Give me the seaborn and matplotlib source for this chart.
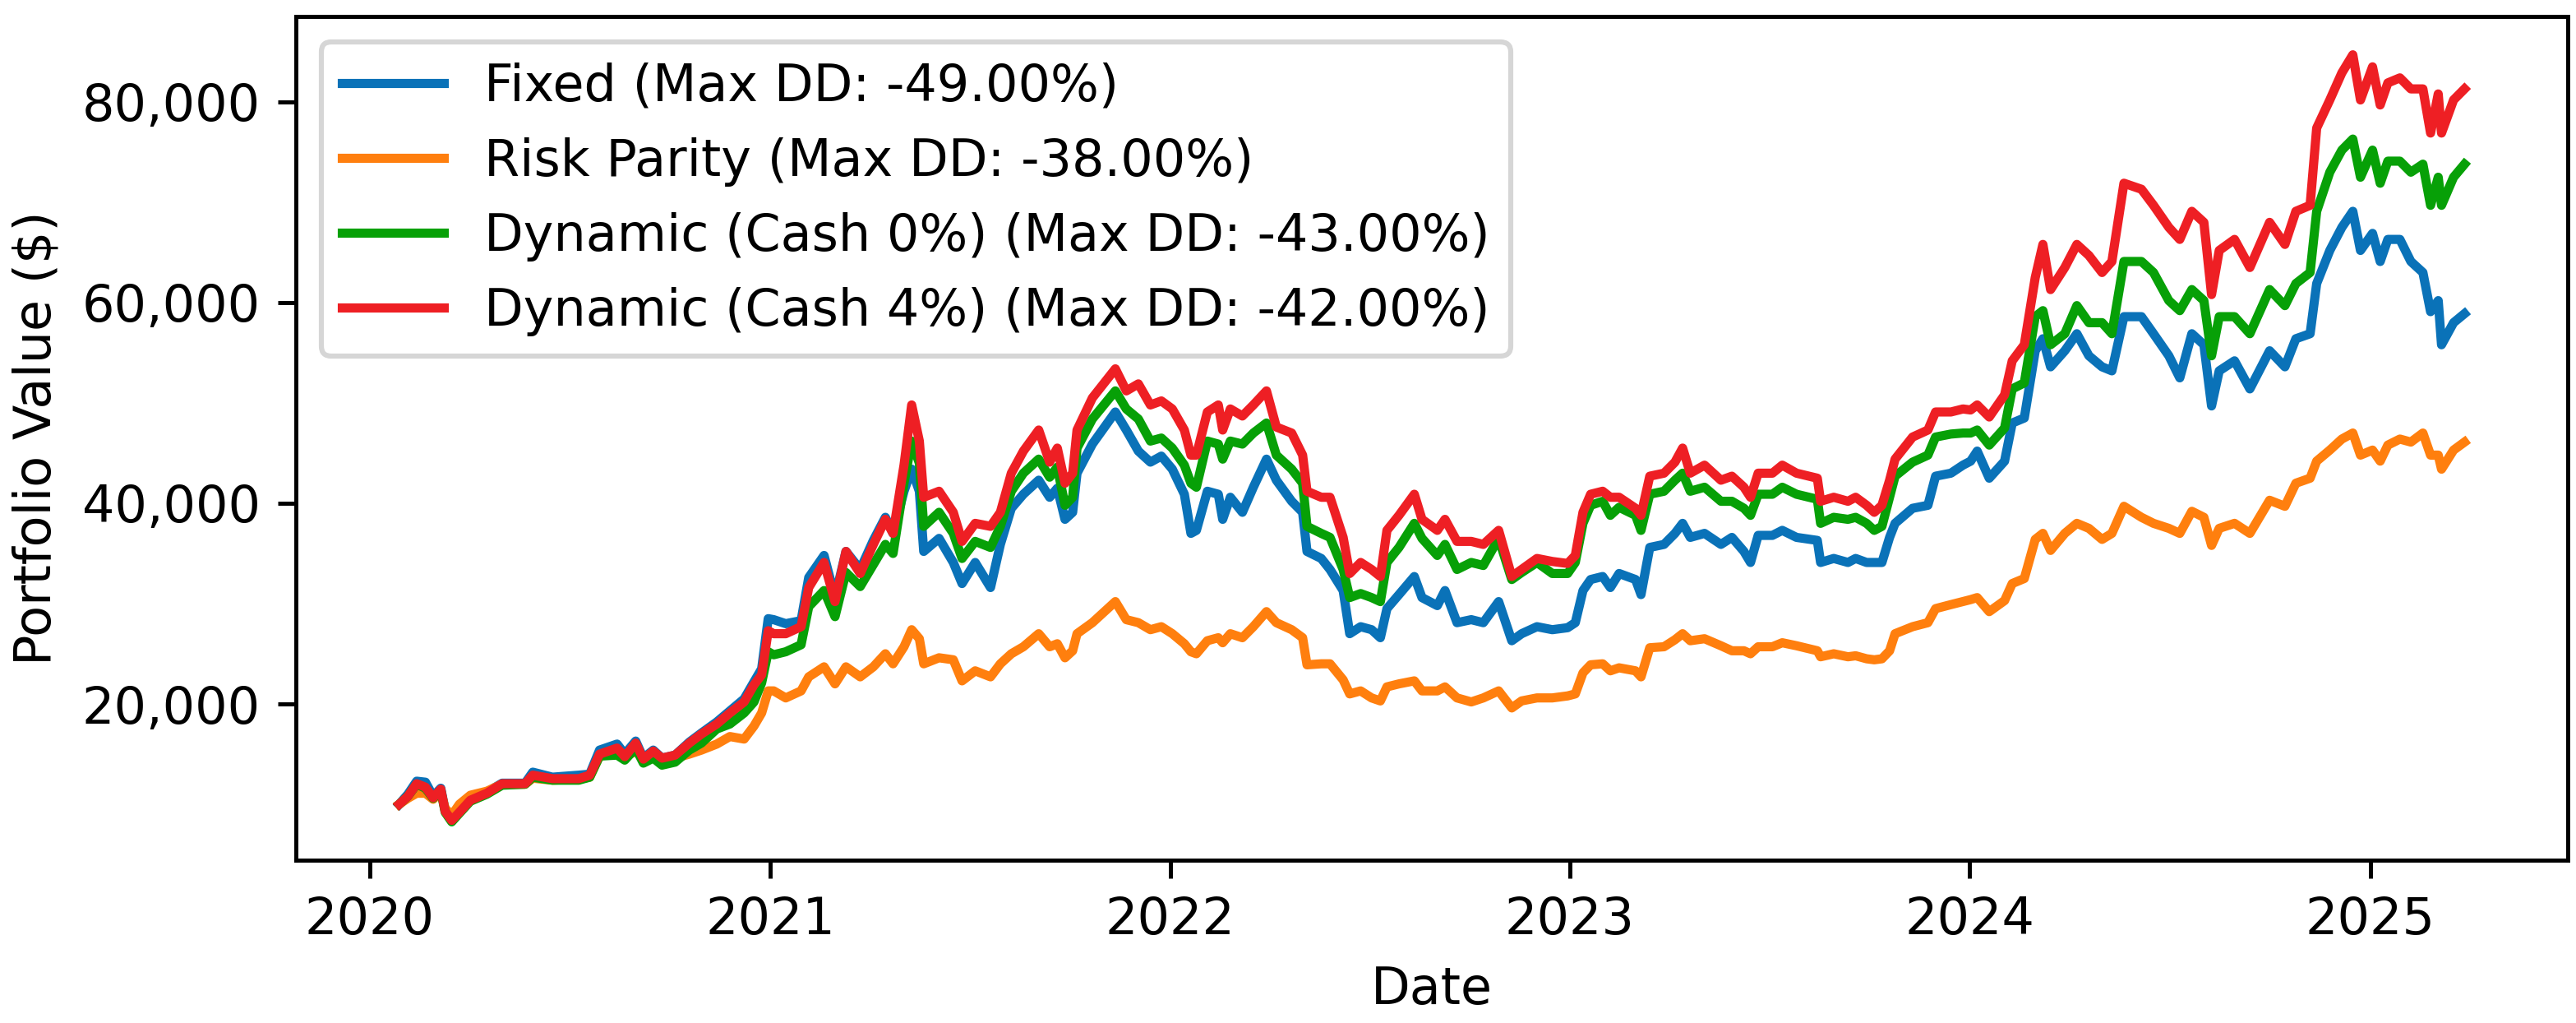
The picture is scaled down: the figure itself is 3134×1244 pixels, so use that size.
import matplotlib
matplotlib.use("Agg")
import matplotlib.pyplot as plt
import matplotlib.ticker as mticker
import seaborn as sns
import pandas as pd

dates = [
    "2020-01-28", "2020-02-05", "2020-02-13", "2020-02-21", "2020-02-28", "2020-03-06",
    "2020-03-10", "2020-03-16", "2020-03-23", "2020-04-02", "2020-04-17", "2020-05-01",
    "2020-05-22", "2020-05-29", "2020-06-16", "2020-07-10", "2020-07-20", "2020-07-29",
    "2020-08-14", "2020-08-21", "2020-08-31", "2020-09-07", "2020-09-16", "2020-09-24",
    "2020-10-06", "2020-10-19", "2020-10-30", "2020-11-13", "2020-11-25", "2020-12-08",
    "2020-12-17", "2020-12-24", "2020-12-30", "2021-01-04", "2021-01-15", "2021-01-29",
    "2021-02-05", "2021-02-19", "2021-03-01", "2021-03-11", "2021-03-24", "2021-04-05",
    "2021-04-16", "2021-04-23", "2021-05-03", "2021-05-10", "2021-05-17", "2021-05-21",
    "2021-06-04", "2021-06-17", "2021-06-25", "2021-07-07", "2021-07-21", "2021-07-30",
    "2021-08-09", "2021-08-20", "2021-09-03", "2021-09-13", "2021-09-20", "2021-09-27",
    "2021-10-04", "2021-10-08", "2021-10-22", "2021-11-12", "2021-11-22", "2021-12-03",
    "2021-12-14", "2021-12-24", "2022-01-03", "2022-01-14", "2022-01-20", "2022-01-25",
    "2022-02-04", "2022-02-14", "2022-02-18", "2022-02-25", "2022-03-08", "2022-03-18",
    "2022-03-30", "2022-04-08", "2022-04-22", "2022-05-02", "2022-05-06", "2022-05-19",
    "2022-05-27", "2022-06-08", "2022-06-14", "2022-06-24", "2022-07-04", "2022-07-12",
    "2022-07-18", "2022-07-29", "2022-08-12", "2022-08-19", "2022-09-02", "2022-09-09",
    "2022-09-20", "2022-10-03", "2022-10-14", "2022-10-28", "2022-11-09", "2022-11-18",
    "2022-12-02", "2022-12-16", "2022-12-30", "2023-01-06", "2023-01-13", "2023-01-20",
    "2023-01-31", "2023-02-07", "2023-02-15", "2023-03-02", "2023-03-07", "2023-03-15",
    "2023-03-28", "2023-04-07", "2023-04-14", "2023-04-21", "2023-05-04", "2023-05-19",
    "2023-05-29", "2023-06-09", "2023-06-15", "2023-06-22", "2023-07-05", "2023-07-14",
    "2023-07-27", "2023-08-15", "2023-08-18", "2023-08-30", "2023-09-12", "2023-09-19",
    "2023-09-29", "2023-10-06", "2023-10-13", "2023-10-20", "2023-10-25", "2023-11-10",
    "2023-11-24", "2023-12-01", "2023-12-15", "2023-12-26", "2024-01-02", "2024-01-08",
    "2024-01-19", "2024-02-02", "2024-02-09", "2024-02-20", "2024-03-01", "2024-03-08",
    "2024-03-15", "2024-03-28", "2024-04-08", "2024-04-19", "2024-05-01", "2024-05-10",
    "2024-05-21", "2024-06-06", "2024-06-17", "2024-07-01", "2024-07-11", "2024-07-22",
    "2024-08-02", "2024-08-09", "2024-08-16", "2024-08-30", "2024-09-13", "2024-10-01",
    "2024-10-15", "2024-10-25", "2024-11-07", "2024-11-13", "2024-11-25", "2024-12-06",
    "2024-12-16", "2024-12-23", "2025-01-03", "2025-01-10", "2025-01-17", "2025-01-28",
    "2025-02-07", "2025-02-18", "2025-02-25", "2025-03-04", "2025-03-07", "2025-03-18",
    "2025-03-28",
]

fixed = [
    10000, 11000, 12300, 12200, 10800, 11600, 9400, 8500, 9300, 10400, 11200, 12100,
    12100, 13200, 12700, 12900, 13000, 15400, 16000, 15000, 16300, 14600, 15400, 14600,
    14900, 16200, 17100, 18200, 19300, 20500, 22200, 23500, 28500, 28400, 28000, 28300,
    32600, 34800, 30600, 35200, 33400, 36300, 38600, 37000, 41200, 43400, 41200, 35200,
    36500, 34100, 32000, 34100, 31600, 35900, 39500, 40900, 42300, 40600, 41500, 38400,
    39100, 43000, 45900, 49100, 47300, 45200, 44100, 44700, 43400, 40900, 37000, 37300,
    41200, 40900, 38400, 40600, 39100, 41600, 44400, 42300, 40200, 39100, 35200, 34500,
    33400, 31300, 27000, 27700, 27400, 26600, 29500, 30900, 32700, 30600, 29800, 31300,
    28100, 28400, 28100, 30200, 26300, 27000, 27700, 27400, 27600, 28100, 31300, 32400,
    32700, 31600, 33000, 32400, 30900, 35600, 35900, 37000, 38000, 36600, 37000, 35900,
    36600, 35200, 34100, 36800, 36800, 37300, 36600, 36300, 34100, 34500, 34100, 34500,
    34100, 34100, 34100, 36600, 38000, 39500, 39800, 42700, 43000, 43800, 44200, 45200,
    42500, 44200, 48000, 48500, 55200, 56400, 53600, 55200, 56900, 54700, 53600, 53200,
    58600, 58600, 56900, 54700, 52500, 56900, 55800, 49700, 53200, 54200, 51400, 55200,
    53600, 56400, 56900, 61900, 65200, 67500, 69100, 65200, 66900, 64100, 66300, 66300,
    64100, 63000, 59100, 60200, 55800, 58000, 58900,
]

risk_parity = [
    10000, 10600, 11100, 11100, 10500, 11200, 9600, 8900, 10000, 10900, 11300, 12000,
    12000, 12600, 12400, 12500, 12700, 14800, 15400, 14700, 15300, 14500, 14800, 14450,
    14600, 15000, 15400, 16000, 16750, 16500, 17800, 19100, 21300, 21300, 20600, 21300,
    22700, 23700, 22000, 23700, 22700, 23700, 25000, 24000, 25700, 27400, 26500, 24000,
    24600, 24400, 22300, 23300, 22700, 24000, 25000, 25700, 27000, 25700, 26000, 24600,
    25300, 27000, 28100, 30200, 28400, 28100, 27400, 27700, 27000, 26000, 25200, 25000,
    26300, 26600, 26100, 27000, 26600, 27700, 29200, 28100, 27400, 26600, 23900, 24000,
    24000, 22400, 21000, 21300, 20600, 20300, 21700, 22000, 22300, 21300, 21300, 21700,
    20600, 20200, 20600, 21300, 19600, 20300, 20600, 20600, 20800, 21000, 23100, 23900,
    24000, 23300, 23600, 23300, 22700, 25600, 25700, 26400, 27000, 26300, 26500, 25800,
    25300, 25300, 25000, 25700, 25700, 26100, 25800, 25300, 24700, 25000, 24700, 24800,
    24500, 24400, 24500, 25300, 27000, 27700, 28100, 29500, 29900, 30200, 30400, 30600,
    29200, 30300, 32000, 32500, 36400, 37000, 35300, 37000, 38000, 37500, 36400, 37000,
    39700, 38600, 38000, 37500, 37000, 39200, 38600, 35800, 37500, 38000, 37000, 40300,
    39700, 42000, 42500, 44200, 45300, 46400, 47000, 44800, 45300, 44200, 45800, 46400,
    46100, 47000, 44800, 44800, 43400, 45300, 46100,
]

dynamic_cash0 = [
    10000, 10800, 12000, 11600, 10600, 11400, 9200, 8250, 9100, 10300, 11000, 11900,
    12000, 12700, 12400, 12400, 12700, 14800, 14900, 14400, 15600, 14100, 14600, 13900,
    14200, 15400, 16100, 17500, 18000, 19100, 20200, 22100, 25200, 24900, 25200, 25900,
    29700, 31300, 28700, 33100, 31700, 33900, 35900, 35000, 42000, 46200, 44000, 37700,
    39100, 37000, 34500, 36200, 35600, 37700, 41200, 43000, 44400, 42600, 43600, 39800,
    40600, 45500, 48400, 51200, 49400, 48400, 46200, 46500, 45500, 43800, 42000, 41600,
    46200, 45900, 44400, 46200, 45900, 47000, 48000, 44800, 43400, 42000, 37700, 37000,
    36600, 33400, 30600, 31000, 30600, 30200, 34100, 35600, 38000, 36500, 34800, 35900,
    33400, 34100, 33800, 36500, 32400, 33100, 34100, 33000, 33000, 34100, 38000, 39800,
    40200, 38800, 39600, 38800, 37300, 40900, 41200, 42300, 43000, 41200, 41600, 40200,
    40200, 39500, 38800, 40900, 40900, 41600, 40900, 40400, 38000, 38600, 38400, 38600,
    38000, 37300, 37700, 40600, 42700, 44100, 44800, 46600, 46900, 47000, 47000, 47300,
    45800, 47500, 51400, 52000, 58600, 59200, 55800, 56900, 59700, 58000, 58000, 56900,
    64100, 64100, 63000, 60200, 59200, 61300, 60200, 54700, 58600, 58600, 56900, 61300,
    59700, 61900, 63000, 69100, 73000, 75200, 76300, 72500, 75200, 71900, 74100, 74100,
    73000, 73800, 69700, 72500, 69700, 72500, 73800,
]

dynamic_cash4 = [
    10000, 10800, 12050, 11700, 10650, 11500, 9300, 8400, 9200, 10400, 11100, 12050,
    12050, 12900, 12550, 12550, 12900, 15000, 15600, 14750, 16100, 14500, 15300, 14600,
    14900, 16100, 17000, 18000, 19100, 20200, 21900, 22900, 27300, 27000, 27000, 27700,
    31600, 34100, 30200, 35200, 33000, 35900, 38400, 37000, 43800, 49800, 46200, 40600,
    41200, 39100, 36200, 38000, 37700, 39100, 43000, 45200, 47300, 44100, 45500, 42000,
    43000, 47300, 50500, 53400, 51200, 51900, 49800, 50200, 49400, 47300, 44800, 44800,
    49100, 49800, 47300, 49400, 48700, 49800, 51200, 47600, 47000, 44800, 41200, 40600,
    40600, 36600, 33000, 34100, 33400, 32700, 37300, 38800, 40900, 38400, 37300, 38400,
    36200, 36200, 35900, 37300, 32700, 33400, 34500, 34200, 34000, 34800, 39100, 40900,
    41200, 40600, 40600, 39500, 38800, 42700, 43000, 44100, 45500, 43000, 43800, 42300,
    42700, 41600, 40600, 43000, 43000, 43800, 43000, 42500, 40200, 40600, 40200, 40600,
    39800, 39100, 39800, 42300, 44400, 46600, 47300, 49100, 49100, 49400, 49300, 49800,
    48600, 50800, 54200, 55800, 62500, 65800, 61300, 63500, 65800, 64700, 63000, 64100,
    71900, 71300, 69700, 67500, 66300, 69100, 68000, 60800, 65200, 66300, 63500, 68000,
    65800, 69100, 69700, 77400, 80200, 82900, 84700, 80200, 83500, 79700, 81900, 82400,
    81300, 81300, 76900, 80800, 76900, 80200, 81300,
]

labels = [
    "Fixed (Max DD: -49.00%)",
    "Risk Parity (Max DD: -38.00%)",
    "Dynamic (Cash 0%) (Max DD: -43.00%)",
    "Dynamic (Cash 4%) (Max DD: -42.00%)",
]
colors = ["#0a72b8", "#ff7f0e", "#07a007", "#ee1f24"]

series = [fixed, risk_parity, dynamic_cash0, dynamic_cash4]
dt = pd.to_datetime(dates)

DPI = 446
fig = plt.figure(figsize=(3134 / DPI, 1244 / DPI), dpi=DPI)
ax = fig.add_axes([360 / 3134, 1 - 1046 / 1244, (3124 - 360) / 3134, (1046 - 20) / 1244])

for vals, lab, col in zip(series, labels, colors):
    sns.lineplot(x=dt, y=vals, ax=ax, label=lab, color=col, linewidth=1.8)

ax.yaxis.set_major_formatter(mticker.StrMethodFormatter("{x:,.0f}"))
ax.set_xlabel("Date")
ax.set_ylabel("Portfolio Value ($)")
ax.legend(loc="upper left")

fig.savefig("out.png", dpi=DPI)
